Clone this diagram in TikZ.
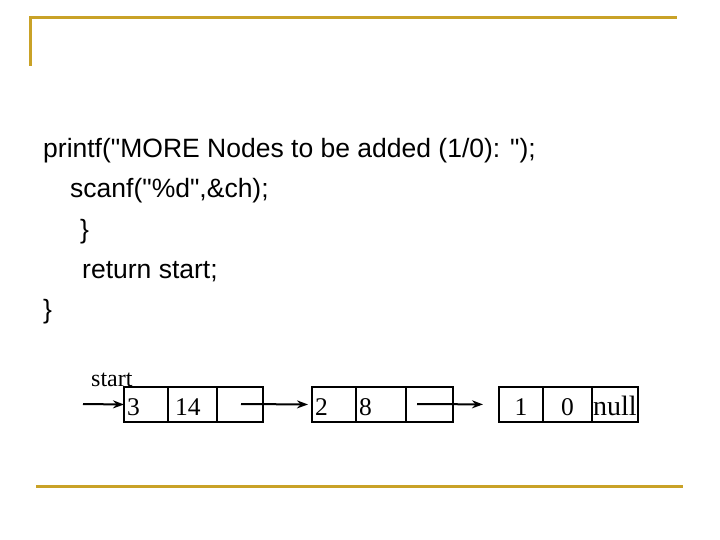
\documentclass[tikz,border=0pt]{standalone}
\usepackage{fontspec}
\setmainfont{Liberation Sans}
\newfontfamily\listfont{Liberation Serif}
\usetikzlibrary{positioning,arrows.meta}
\definecolor{rulegold}{RGB}{201,162,39}
\tikzset{
  rule/.style={draw=rulegold,line width=3pt},
  code/.style={anchor=base west,inner sep=0pt,font=\fontsize{26.5}{40}\selectfont},
  cell/.style={draw,line width=1.8pt,minimum height=35pt,inner ysep=0pt,outer sep=0pt,
    inner xsep=3pt,text width=#1,align=left,text height=22pt,text depth=0pt,
    font=\listfont\fontsize{25.5}{26}\selectfont},
  link/.style={line width=2pt,-{Stealth[length=11pt,width=8pt]}}
}
\begin{document}
\begin{tikzpicture}[x=1pt,y=-1pt]
  \useasboundingbox (0,0) rectangle (720,540);
  % slide rules
  \draw[rule] (30,66) -- (30,18) -- (677,18);
  \draw[rule] (36,486) -- (683,486);
  % code
  \node[code] (l1) at (43,158) {printf(\textquotedbl MORE Nodes to be added (1/0): \textquotedbl);};
  \node[code] (l2) at (70,198) {scanf(\textquotedbl\%d\textquotedbl,\&ch);};
  \node[code] (l3) at (80,238) {\}};
  \node[code] (l4) at (82,278) {return start;};
  \node[code] (l5) at (43,318) {\}};
  % list
  \node[cell=38pt,anchor=north west] (n1a) at (124,387) {3};
  \node[cell=49pt,right=0pt of n1a,inner xsep=0pt] (n1b) {\hspace{7pt}14};
  \node[cell=40pt,right=0pt of n1b] (n1c) {};
  \node[cell=38pt,anchor=north west] (n2a) at (312,387) {2};
  \node[cell=44pt,right=0pt of n2a] (n2b) {8};
  \node[cell=41pt,right=0pt of n2b] (n2c) {};
  \node[cell=38pt,anchor=north west,align=center] (n3a) at (499,387) {1};
  \node[cell=43pt,right=0pt of n3a,align=center] (n3b) {0};
  \node[cell=44pt,right=0pt of n3b,inner xsep=1pt,
        font=\listfont\fontsize{28}{28}\selectfont] (n3c) {null};
  \node[anchor=base west,inner sep=0pt,font=\listfont\fontsize{24}{24}\selectfont] (head) at (91,386) {start};
  \coordinate (s0) at (83,404);
  \coordinate (p1) at (241,404);
  \coordinate (p2) at (417,404);
  \draw[link] (s0) -- (n1a.west);
  \draw[link,shorten >=4pt] (p1) -- (n2a.west);
  \draw[link,shorten >=16pt] (p2) -- (n3a.west);
\end{tikzpicture}
\end{document}
